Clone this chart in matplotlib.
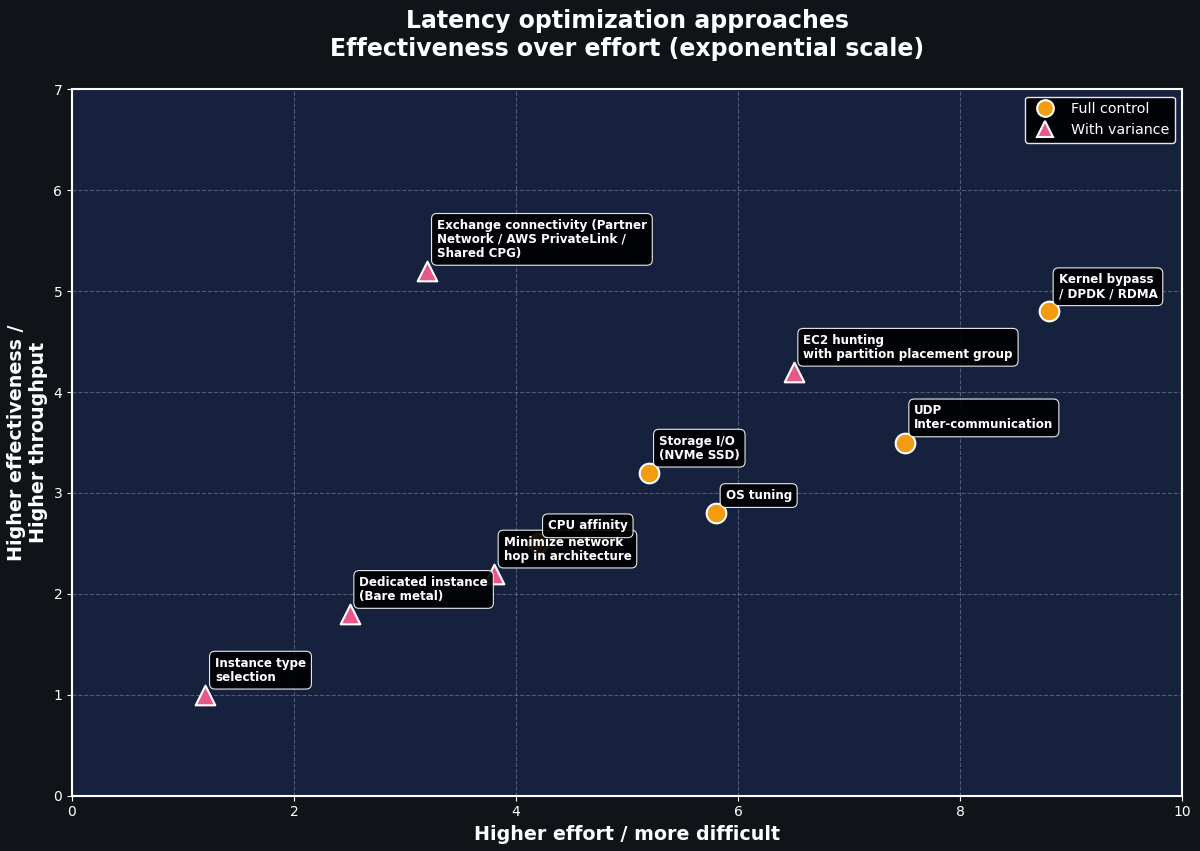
import matplotlib
matplotlib.use("Agg")
import matplotlib.pyplot as plt
from matplotlib.lines import Line2D

labels = [
    "Instance type\nselection",
    "Dedicated instance\n(Bare metal)",
    "Exchange connectivity (Partner\nNetwork / AWS PrivateLink /\nShared CPG)",
    "Minimize network\nhop in architecture",
    "CPU affinity",
    "Storage I/O\n(NVMe SSD)",
    "OS tuning",
    "EC2 hunting\nwith partition placement group",
    "UDP\nInter-communication",
    "Kernel bypass\n/ DPDK / RDMA",
]
effort = [1.2, 2.5, 3.2, 3.8, 4.2, 5.2, 5.8, 6.5, 7.5, 8.8]
effectiveness = [1.0, 1.8, 5.2, 2.2, 2.5, 3.2, 2.8, 4.2, 3.5, 4.8]
kind = ["variance", "variance", "variance", "variance", "control",
        "control", "control", "variance", "control", "control"]

fig_bg = "#101418"
ax_bg = "#16213e"
orange = "#f39c12"
pink = "#e8578a"

fig, ax = plt.subplots(figsize=(12, 8.51), dpi=100)
fig.patch.set_facecolor(fig_bg)
ax.set_facecolor(ax_bg)

for x, y, k in zip(effort, effectiveness, kind):
    if k == "control":
        ax.scatter(x, y, s=200, marker="o", color=orange, edgecolors="white",
                   linewidths=1.5, zorder=3)
    else:
        ax.scatter(x, y, s=200, marker="^", color=pink, edgecolors="white",
                   linewidths=1.5, zorder=3)

for x, y, lab in zip(effort, effectiveness, labels):
    ax.annotate(lab, (x, y), xytext=(7, 8), textcoords="offset points",
                ha="left", va="bottom", fontsize=8.6, fontweight="bold", color="white",
                linespacing=1.1,
                bbox=dict(boxstyle="round,pad=0.45", facecolor="black", edgecolor="white",
                          alpha=0.9, linewidth=0.8), zorder=4)

ax.set_xlim(0, 10)
ax.set_ylim(0, 7)
ax.grid(True, linestyle="--", color="#8a93b0", alpha=0.5, linewidth=0.8)
ax.set_axisbelow(True)
for s in ax.spines.values():
    s.set_color("white")
    s.set_linewidth(1.5)
ax.tick_params(colors="white", labelsize=10)

ax.set_xlabel("Higher effort / more difficult", fontsize=13.7, fontweight="bold", color="white")
ax.set_ylabel("Higher effectiveness /\nHigher throughput", fontsize=13.7, fontweight="bold", color="white")
ax.set_title("Latency optimization approaches\nEffectiveness over effort (exponential scale)",
             fontsize=17, fontweight="bold", color="white", pad=24)

handles = [
    Line2D([], [], marker="o", linestyle="", markersize=12, markerfacecolor=orange,
           markeredgecolor="white", markeredgewidth=1.5, label="Full control"),
    Line2D([], [], marker="^", linestyle="", markersize=12, markerfacecolor=pink,
           markeredgecolor="white", markeredgewidth=1.5, label="With variance"),
]
leg = ax.legend(handles=handles, loc="upper right", fontsize=10.3, facecolor="black",
                edgecolor="white", labelcolor="white", framealpha=0.9)

fig.subplots_adjust(left=0.06, right=0.985, top=0.895, bottom=0.065)
fig.savefig("out.png", dpi=100, facecolor=fig_bg)
